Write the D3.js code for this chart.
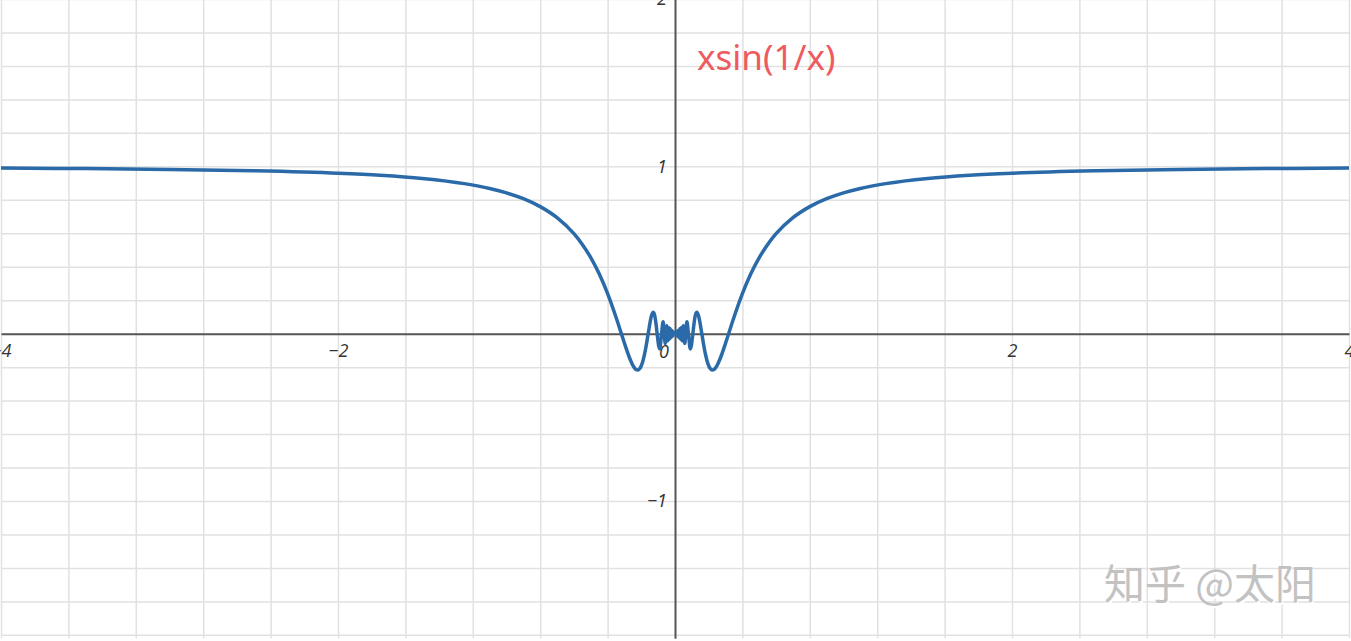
<!DOCTYPE html>
<html>
<head>
<meta charset="utf-8">
<script src="https://cdn.jsdelivr.net/npm/d3@7"></script>
<style>
  html, body { margin: 0; padding: 0; background: #fff; overflow: hidden; }
  svg { display: block; }
</style>
</head>
<body>
<div id="chart"></div>
<script>
// curve points (x, y), left half then right half
const leftX = [-4, -3.5, -3, -2.5, -2, -1.75, -1.5, -1.25, -1.1, -1.0, -0.9, -0.8, -0.7, -0.6, -0.55, -0.5, -0.45, -0.4, -0.35, -0.3183, -0.3, -0.27, -0.25, -0.23, -0.22, -0.21, -0.2, -0.19, -0.18, -0.17, -0.15915, -0.14, -0.13, -0.125, -0.12, -0.11, -0.106103, -0.090946, -0.079577, -0.070736, -0.063662, -0.057875, -0.053052, -0.048971, -0.045473, -0.042441, -0.039789, -0.037448, -0.035368, -0.033506, -0.031831, -0.030315, -0.027679, -0.025465, -0.023579, -0.021952, -0.020536, -0.019292, -0.018189, -0.017206, -0.016324, -0.015527, -0.014805, -0.014147, -0.013545, -0.012992, -0.012483, -0.012012, -0.011575, -0.011169, -0.010790, -0.010436];
const leftY = [0.98960, 0.98645, 0.98158, 0.97355, 0.95885, 0.94638, 0.92755, 0.89670, 0.86786, 0.84147, 0.80657, 0.75919, 0.69294, 0.59724, 0.53317, 0.45465, 0.35785, 0.23939, 0.09798, 0, -0.05717, -0.14389, -0.18920, -0.21490, -0.21696, -0.20974, -0.19178, -0.16188, -0.11957, -0.06637, 0, 0.10607, 0.12829, 0.12367, 0.10646, 0.03617, 0, -0.090946, 0, 0.070736, 0, -0.057875, 0, 0.048971, 0, -0.042441, 0, 0.037448, 0, -0.033506, 0, 0.030315, -0.027679, 0.025465, -0.023579, 0.021952, -0.020536, 0.019292, -0.018189, 0.017206, -0.016324, 0.015527, -0.014805, 0.014147, -0.013545, 0.012992, -0.012483, 0.012012, -0.011575, 0.011169, -0.010790, 0.010436];
const rightX = [0, 0.010436, 0.010790, 0.011169, 0.011575, 0.012012, 0.012483, 0.012992, 0.013545, 0.014147, 0.014805, 0.015527, 0.016324, 0.017206, 0.018189, 0.019292, 0.020536, 0.021952, 0.023579, 0.025465, 0.027679, 0.030315, 0.031831, 0.033506, 0.035368, 0.037448, 0.039789, 0.042441, 0.045473, 0.048971, 0.053052, 0.057875, 0.063662, 0.070736, 0.079577, 0.090946, 0.106103, 0.11, 0.12, 0.125, 0.13, 0.14, 0.15915, 0.17, 0.18, 0.19, 0.2, 0.21, 0.22, 0.23, 0.25, 0.27, 0.3, 0.3183, 0.35, 0.4, 0.45, 0.5, 0.55, 0.6, 0.7, 0.8, 0.9, 1.0, 1.1, 1.25, 1.5, 1.75, 2, 2.5, 3, 3.5, 4];
const rightY = [0, 0.010436, -0.010790, 0.011169, -0.011575, 0.012012, -0.012483, 0.012992, -0.013545, 0.014147, -0.014805, 0.015527, -0.016324, 0.017206, -0.018189, 0.019292, -0.020536, 0.021952, -0.023579, 0.025465, -0.027679, 0.030315, 0, -0.033506, 0, 0.037448, 0, -0.042441, 0, 0.048971, 0, -0.057875, 0, 0.070736, 0, -0.090946, 0, 0.03617, 0.10646, 0.12367, 0.12829, 0.10607, 0, -0.06637, -0.11957, -0.16188, -0.19178, -0.20974, -0.21696, -0.21490, -0.18920, -0.14389, -0.05717, 0, 0.09798, 0.23939, 0.35785, 0.45465, 0.53317, 0.59724, 0.69294, 0.75919, 0.80657, 0.84147, 0.86786, 0.89670, 0.92755, 0.94638, 0.95885, 0.97355, 0.98158, 0.98645, 0.98960];

// grid and tick labels
const gridX = [-4, -3.6, -3.2, -2.8, -2.4, -2, -1.6, -1.2, -0.8, -0.4, 0.4, 0.8, 1.2, 1.6, 2, 2.4, 2.8, 3.2, 3.6, 4];
const gridY = [-1.8, -1.6, -1.4, -1.2, -1, -0.8, -0.6, -0.4, -0.2, 0.2, 0.4, 0.6, 0.8, 1, 1.2, 1.4, 1.6, 1.8, 2];
const xLabels = [-4, -2, 2, 4];
const yLabels = [-1, 1, 2];
const title = "xsin(1/x)";
const watermark = "知乎 @太阳";

const W = 1351, H = 641;

const svg = d3.select("#chart").append("svg")
    .attr("width", W)
    .attr("height", H);

const x = d3.scaleLinear().domain([-4, 4]).range([1, 1349]);
const y = d3.scaleLinear().domain([-1.82, 2]).range([638.2, -1]);

svg.append("defs").append("clipPath").attr("id", "plot")
    .append("rect").attr("x", 0).attr("y", 0).attr("width", W).attr("height", 638);

// vertical grid
svg.append("g")
    .attr("transform", `translate(0,${y(-1.82)})`)
    .call(d3.axisBottom(x).tickValues(gridX).tickSize(-(y(-1.82) - y(2))).tickFormat(""))
    .call(g => g.select(".domain").remove())
    .call(g => g.selectAll("line").attr("stroke", "#e1e1e1").attr("stroke-width", 1.5));

// horizontal grid
svg.append("g")
    .attr("transform", `translate(${x(-4)},0)`)
    .call(d3.axisLeft(y).tickValues(gridY).tickSize(-(x(4) - x(-4))).tickFormat(""))
    .call(g => g.select(".domain").remove())
    .call(g => g.selectAll("line").attr("stroke", "#e1e1e1").attr("stroke-width", 1.5));

// watermark
svg.append("text")
    .attr("x", 1210)
    .attr("y", 599)
    .attr("text-anchor", "middle")
    .attr("font-family", "'Noto Sans CJK SC', sans-serif")
    .attr("font-size", 41)
    .attr("fill", "#fff")
    .attr("transform", "translate(1.5,1.5)")
    .text(watermark);
svg.append("text")
    .attr("x", 1210)
    .attr("y", 599)
    .attr("text-anchor", "middle")
    .attr("font-family", "'Noto Sans CJK SC', sans-serif")
    .attr("font-size", 41)
    .attr("fill", "#c2c2c2")
    .text(watermark);

// axes lines with labels
svg.append("g")
    .attr("transform", `translate(0,${y(0)})`)
    .call(d3.axisBottom(x).tickValues(xLabels).tickSize(0).tickPadding(11)
        .tickFormat(d => d < 0 ? "\u2212" + Math.abs(d) : d))
    .call(g => g.select(".domain").attr("stroke", "#555").attr("stroke-width", 2))
    .call(g => g.selectAll("text")
        .attr("font-family", "'Open Sans', sans-serif")
        .attr("font-style", "italic")
        .attr("font-size", 18)
        .attr("fill", "#333"));

svg.append("g")
    .attr("transform", `translate(${x(0)},0)`)
    .call(d3.axisLeft(y).tickValues(yLabels).tickSize(0).tickPadding(8)
        .tickFormat(d => d < 0 ? "\u2212" + Math.abs(d) : d))
    .call(g => g.select(".domain").attr("stroke", "#555").attr("stroke-width", 2))
    .call(g => g.selectAll("text")
        .attr("font-family", "'Open Sans', sans-serif")
        .attr("font-style", "italic")
        .attr("font-size", 18)
        .attr("fill", "#333"));

// origin label
svg.append("text")
    .attr("x", x(0) - 6)
    .attr("y", y(0) + 24)
    .attr("text-anchor", "end")
    .attr("font-family", "'Open Sans', sans-serif")
    .attr("font-style", "italic")
    .attr("font-size", 18)
    .attr("fill", "#333")
    .text("0");

// curve
const pts = leftX.map((v, i) => [v, leftY[i]])
    .concat(rightX.map((v, i) => [v, rightY[i]]));

const line = d3.line()
    .x(d => x(d[0]))
    .y(d => y(d[1]))
    .curve(d3.curveMonotoneX);

svg.append("path")
    .datum(pts)
    .attr("clip-path", "url(#plot)")
    .attr("fill", "none")
    .attr("stroke", "#2a6aa8")
    .attr("stroke-width", 3.5)
    .attr("stroke-linejoin", "round")
    .attr("d", line);

// title
svg.append("text")
    .attr("x", 697)
    .attr("y", 70)
    .attr("font-family", "'Noto Sans', sans-serif")
    .attr("font-size", 35)
    .attr("fill", "#ef5a5f")
    .text(title);
</script>
</body>
</html>
